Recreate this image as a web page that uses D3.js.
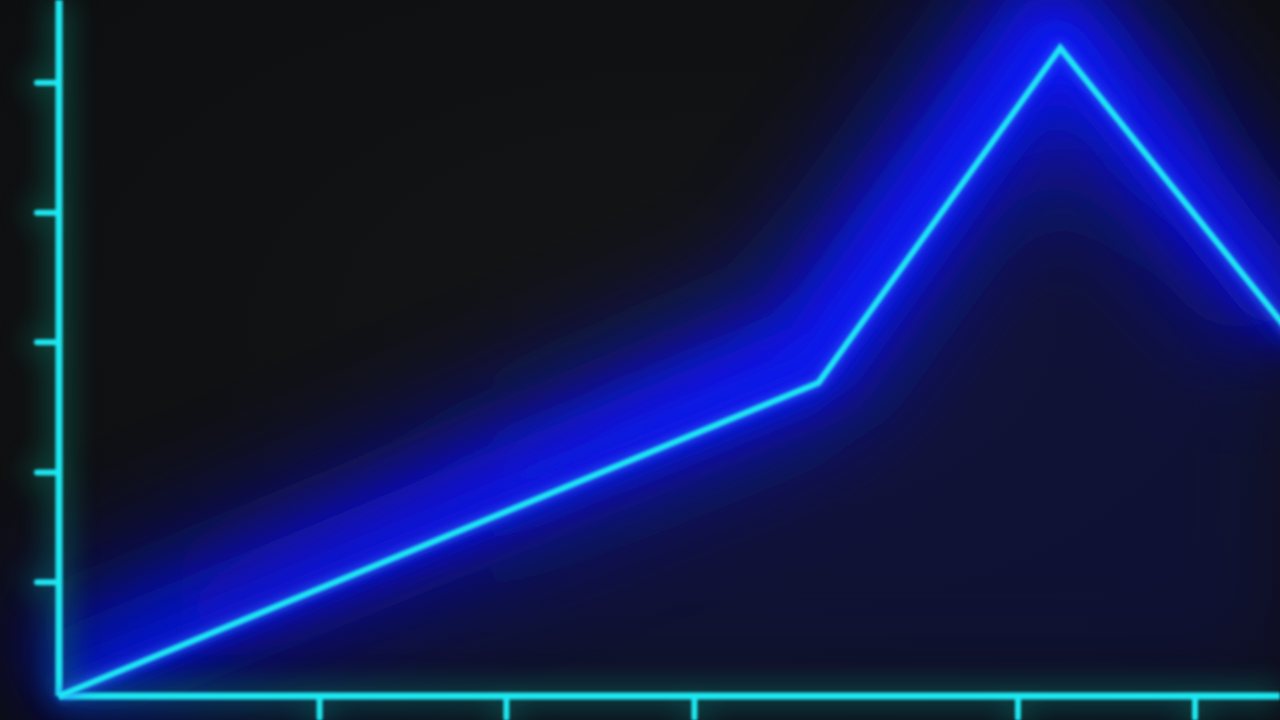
<html>
    <head>
    <style>
        body { margin:0; background:#111213; overflow:hidden; }
        svg { display:block; }
    </style>
    </head>
    <body>
    <svg id="neon"></svg>
    </body>
<script src="https://d3js.org/d3.v7.min.js"></script>
<script>

// the line, in chart units (x 0-100 across, y 0-100 up)
var xValues = [0, 62.2, 82.0, 101.6];
var yValues = [0, 45.0, 93.1, 50.5];

// tick positions along each axis
var xTicks = [21.3, 36.6, 52.0, 78.5, 93.0];
var yTicks = [16.4, 32.2, 50.9, 69.5, 88.2];

var cyan = "#1ee8f2";
var glowBlue = "#0a14ff";

var initGraph = function(target)
{
    var screen = {width:1280, height:720};
    var margins = {top:0, bottom:24, left:59, right:0};

    var svg = d3.select(target)
        .attr("width", screen.width)
        .attr("height", screen.height);

    var defs = svg.append("defs");

    //dark background with a faint vignette
    var bg = defs.append("radialGradient")
        .attr("id", "bg")
        .attr("cx", "55%").attr("cy", "45%").attr("r", "75%");
    bg.append("stop").attr("offset", "0%").attr("stop-color", "#141517");
    bg.append("stop").attr("offset", "100%").attr("stop-color", "#0d0e10");

    svg.append("rect")
        .attr("width", screen.width)
        .attr("height", screen.height)
        .attr("fill", "url(#bg)");

    //glow is strongest round the middle of the climb
    var fade = defs.append("linearGradient")
        .attr("id", "fade")
        .attr("gradientUnits", "userSpaceOnUse")
        .attr("x1", 0).attr("x2", screen.width)
        .attr("y1", 0).attr("y2", 0);
    [[0, 0.55], [0.3, 0.75], [0.6, 1], [0.8, 1], [1, 0.7]].forEach(function(s)
    {
        fade.append("stop")
            .attr("offset", s[0])
            .attr("stop-color", glowBlue)
            .attr("stop-opacity", s[1]);
    });

    var blur = function(id, sd)
    {
        defs.append("filter")
            .attr("id", id)
            .attr("x", "-50%").attr("y", "-50%")
            .attr("width", "200%").attr("height", "200%")
            .append("feGaussianBlur")
            .attr("stdDeviation", sd);
    };
    blur("huge", 55);
    blur("wide", 30);
    blur("mid", 14);
    blur("soft", 5);
    blur("tiny", 1.6);

    var xScale = d3.scaleLinear()
        .domain([0, 100])
        .range([margins.left, screen.width - margins.right]);

    var yScale = d3.scaleLinear()
        .domain([0, 100])
        .range([screen.height - margins.bottom, margins.top]);

    var points = xValues.map(function(x, i) { return [x, yValues[i]]; });

    var line = d3.line()
        .x(function(d) { return xScale(d[0]); })
        .y(function(d) { return yScale(d[1]); });

    var area = d3.area()
        .x(function(d) { return xScale(d[0]); })
        .y0(yScale(0))
        .y1(function(d) { return yScale(d[1]); });

    //faint blue haze under the line
    svg.append("path")
        .datum(points)
        .attr("d", area)
        .attr("fill", "#0a16c8")
        .attr("opacity", 0.18)
        .attr("filter", "url(#huge)");

    //very wide soft glow
    svg.append("path")
        .datum(points)
        .attr("d", line)
        .attr("transform", "translate(-10,-30)")
        .attr("fill", "none")
        .attr("stroke", "url(#fade)")
        .attr("stroke-width", 150)
        .attr("stroke-linejoin", "round")
        .attr("opacity", 0.65)
        .attr("filter", "url(#huge)");

    //brighter glow, pushed a little up
    svg.append("path")
        .datum(points)
        .attr("d", line)
        .attr("transform", "translate(-6,-26)")
        .attr("fill", "none")
        .attr("stroke", "url(#fade)")
        .attr("stroke-width", 70)
        .attr("stroke-linejoin", "round")
        .attr("opacity", 0.9)
        .attr("filter", "url(#wide)");

    svg.append("path")
        .datum(points)
        .attr("d", line)
        .attr("transform", "translate(-2,-6)")
        .attr("fill", "none")
        .attr("stroke", "#0b1cff")
        .attr("stroke-width", 26)
        .attr("stroke-linejoin", "round")
        .attr("opacity", 0.55)
        .attr("filter", "url(#mid)");

    //axes
    var xAxis = d3.axisBottom(xScale)
        .tickValues(xTicks)
        .tickSize(22)
        .tickFormat("");

    var yAxis = d3.axisLeft(yScale)
        .tickValues(yTicks)
        .tickSize(22)
        .tickFormat("");

    var drawAxes = function(g, width, colour)
    {
        var xg = g.append("g")
            .attr("transform", "translate(0," + yScale(0) + ")")
            .call(xAxis);
        var yg = g.append("g")
            .attr("transform", "translate(" + xScale(0) + ",0)")
            .call(yAxis);
        g.selectAll(".domain").remove();
        g.selectAll(".tick line")
            .attr("stroke", colour)
            .attr("stroke-width", width - 1)
            .attr("stroke-linecap", "round");
        //axis lines drawn by hand so they run to the screen edges
        xg.append("line")
            .attr("x1", xScale(0)).attr("x2", screen.width)
            .attr("stroke", colour).attr("stroke-width", width);
        yg.append("line")
            .attr("y1", yScale(0)).attr("y2", 0)
            .attr("stroke", colour).attr("stroke-width", width);
        return g;
    };

    drawAxes(svg.append("g").attr("filter", "url(#mid)").attr("opacity", 0.35), 24, "#10a88a");
    drawAxes(svg.append("g").attr("filter", "url(#tiny)"), 7, cyan);

    //the neon line itself
    svg.append("path")
        .datum(points)
        .attr("d", line)
        .attr("fill", "none")
        .attr("stroke", "#2a6bff")
        .attr("stroke-width", 12)
        .attr("stroke-linejoin", "round")
        .attr("opacity", 0.6)
        .attr("filter", "url(#soft)");

    svg.append("path")
        .datum(points)
        .attr("d", line)
        .attr("fill", "none")
        .attr("stroke", cyan)
        .attr("stroke-width", 6)
        .attr("stroke-linejoin", "miter")
        .attr("filter", "url(#tiny)");
};

initGraph("#neon");

</script>
</html>
